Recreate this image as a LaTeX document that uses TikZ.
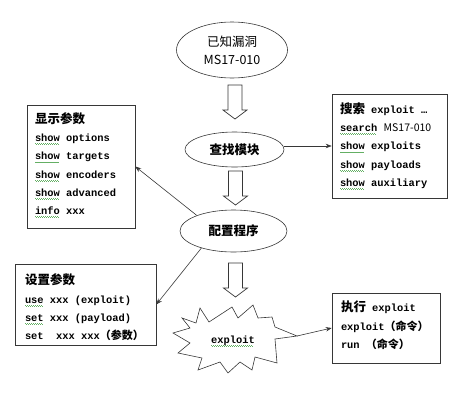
\documentclass[tikz,border=0pt]{standalone}
\usepackage{fontspec}
\setmonofont{Liberation Mono}
\newfontfamily\cjk{Noto Sans CJK SC}
\usetikzlibrary{shapes.geometric,arrows.meta}
\definecolor{sqgreen}{RGB}{100,175,100}
\definecolor{edge}{RGB}{55,55,55}
\newsavebox\sqbox
\newcommand\sqw[1]{\sbox\sqbox{#1}\rlap{\color{sqgreen}\leaders\hbox to 2pt{\rule[-2.4pt]{1pt}{0.6pt}\rule[-3.1pt]{1pt}{0.6pt}}\hskip\wd\sqbox}\usebox\sqbox}
\newcommand\zhs[1]{{\cjk\bfseries\fontsize{11}{18.3}\selectfont #1}}
\newcommand\hd[1]{{\cjk\bfseries\fontsize{12.5}{18.3}\selectfont #1}}
\begin{document}
\begin{tikzpicture}[x=1pt,y=-1pt,line width=0.6pt,
  oval/.style={ellipse,draw=edge,inner sep=0pt,align=center},
  frame/.style={draw=edge,inner sep=0pt},
  txt/.style={align=left,anchor=west,inner sep=0pt,
    font=\ttfamily\bfseries\fontsize{10.4}{18.3}\selectfont},
  hollow/.pic={\draw[edge,line width=0.7pt,fill=white]
    (-7,-34) -- (7,-34) -- (7,-9) -- (12,-9) -- (0,0) -- (-12,-9) -- (-7,-9) -- cycle;},
  link/.style={draw=edge,-{Stealth[length=6pt,width=4.5pt]}}]
\useasboundingbox (0,0) rectangle (474,402);

% ellipses
\node[oval,minimum width=111,minimum height=56,font=\cjk\fontsize{12.5}{18}\selectfont] (e1) at (232,50)
  {已知漏洞\\MS17-010};
\node[oval,minimum width=99,minimum height=35,font=\cjk\bfseries\fontsize{12.5}{15}\selectfont] (e2) at (234.5,149.5)
  {查找模块};
\node[oval,minimum width=107,minimum height=42,font=\cjk\bfseries\fontsize{12.5}{15}\selectfont] (e3) at (233.5,231)
  {配置程序};

% hollow arrows
\pic at (235,119) {hollow};
\pic at (235.5,205) {hollow};
\pic at (235.5,297) {hollow};

% boxes
\node[frame,minimum width=108,minimum height=123] (l1) at (81,166.5) {};
\node[txt] (l1t) at ([xshift=8pt,yshift=1.5pt]l1.west)
  {\hd{显示参数}\\
   \sqw{show} options\\
   \sqw{show} targets\\
   \sqw{show} encoders\\
   \sqw{show} advanced\\
   \sqw{info} xxx};
\node[frame,minimum width=115,minimum height=104] (r1) at (389.5,146) {};
\node[txt] (r1t) at ([xshift=8pt]r1.west)
  {\hd{搜索} exploit …\\
   \sqw{search} {\cjk\mdseries\fontsize{10.5}{18.3}\selectfont MS17-010}\\
   \sqw{show} exploits\\
   \sqw{show} payloads\\
   \sqw{show} auxiliary};
\node[frame,minimum width=141,minimum height=81] (l2) at (85.5,304.5) {};
\node[txt] (l2t) at ([xshift=10pt,yshift=-3pt]l2.west)
  {\hd{设置参数}\\
   \sqw{use} xxx (exploit)\\
   \sqw{set} xxx (payload)\\
   set\ \ xxx xxx\zhs{（参数）}};
\node[frame,minimum width=108,minimum height=70] (r2) at (386,328) {};
\node[txt] (r2t) at ([xshift=9pt,yshift=2.5pt]r2.west)
  {\hd{执行} exploit\\
   exploit\zhs{（命令）}\\
   run \zhs{（命令）}};

% starburst
\draw[edge] (200,308) -- (209,322) -- (232,307) -- (238,318) -- (253,305) -- (258,318)
  -- (272,317) -- (275,327) -- (297,336) -- (275,339) -- (277,363) -- (255,357)
  -- (252,370) -- (240,362) -- (228,373) -- (220,362) -- (198,370) -- (202,358)
  -- (178,353) -- (190,343) -- (173,333) -- (190,328) -- (182,318) -- (196,323) -- cycle;
\coordinate (sr) at (297,336);
\node[font=\ttfamily\bfseries\fontsize{10.4}{12}\selectfont] (sx) at (233,341) {\sqw{exploit}};

% connectors
\draw[link] (e2.east |- r1.west) -- (r1.west);
\draw[link] (e3.157) -- (l1.east);
\draw[link] (e3.208) -- (l2.east);
\draw[link] (sr) -- (r2.west);
\end{tikzpicture}
\end{document}
